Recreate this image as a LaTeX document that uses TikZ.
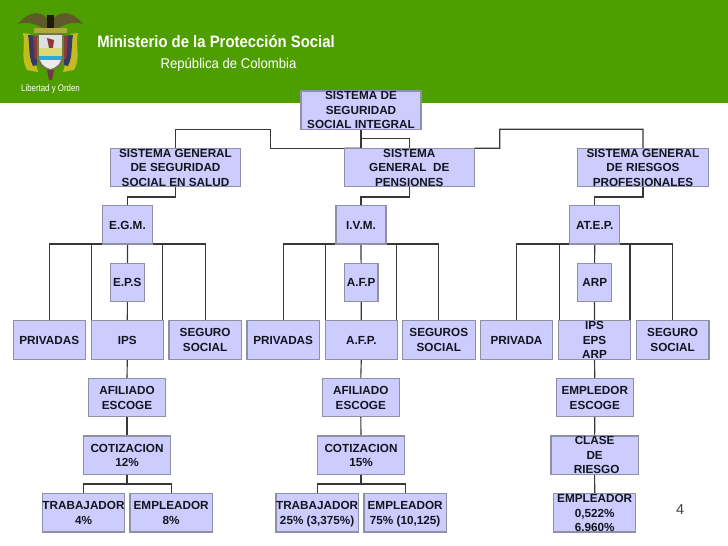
\documentclass[tikz,border=0pt]{standalone}
\usepackage{fontspec}
\setmainfont{Liberation Sans}
\pgfdeclarelayer{bg}
\pgfsetlayers{bg,main}
\definecolor{band}{HTML}{4F9E00}
\definecolor{boxfill}{HTML}{CCCCFF}
\definecolor{boxline}{HTML}{9090A4}
\definecolor{wire}{HTML}{383838}
\definecolor{txt}{HTML}{14141E}
\definecolor{wing}{HTML}{5E5A2A}
\definecolor{gold}{HTML}{C4BC1E}
\definecolor{navy}{HTML}{34386A}
\definecolor{crim}{HTML}{8A3A3A}
\definecolor{shld}{HTML}{6E7A3E}
\tikzset{
  bx/.style={draw=boxline,line width=1pt,fill=boxfill,inner sep=0pt,outer sep=0pt,text=txt},
  wirep/.style={draw=wire,line width=0.85pt,line join=miter},
  head/.style={inner sep=0pt,text=white}
}
% name, left, right, top, bottom, text
\newcommand{\bxn}[6]{%
  \pgfmathsetmacro{\cxx}{(#2+#3)/2}\pgfmathsetmacro{\cyy}{(#4+#5)/2}%
  \pgfmathsetmacro{\wdd}{(#3-#2)*0.75}\pgfmathsetmacro{\htt}{(#5-#4)*0.75}%
  \node[bx,minimum width=\wdd pt,minimum height=\htt pt] (#1) at (\cxx,\cyy)
  {\makebox[0pt][c]{\raisebox{-3.5pt}[0pt][0pt]{\parbox[c]{120pt}{\centering\fontsize{8.8}{10.9}\selectfont\bfseries\strut #6\strut}}}};}
\begin{document}
\begin{tikzpicture}[x=0.75pt,y=-0.75pt]
\useasboundingbox (0,0) rectangle (728,546);
\begin{pgfonlayer}{bg}
\fill[white] (0,0) rectangle (728,546);
\fill[band] (0,0) rectangle (728,103);
\end{pgfonlayer}
% emblem
\fill[gold] (23,33) .. controls (26,45) and (20,58) .. (27,70) -- (38,72) .. controls (33,55) and (34,45) .. (30,34) -- cycle;
\fill[gold] (78,33) .. controls (75,45) and (81,58) .. (74,70) -- (63,72) .. controls (68,55) and (67,45) .. (71,34) -- cycle;
\fill[navy] (28,35) .. controls (30,45) and (28,56) .. (33,66) -- (37,65) -- (37,36) -- cycle;
\fill[navy] (73,35) .. controls (71,45) and (73,56) .. (68,66) -- (64,65) -- (64,36) -- cycle;
\fill[crim] (33,36) -- (37,36) -- (37,60) -- (34.5,58) -- cycle;
\fill[crim] (68,36) -- (64,36) -- (64,60) -- (66.5,58) -- cycle;
\fill[wing] (50,21) .. controls (42,12) and (32,8) .. (18,24) .. controls (28,21) and (36,24) .. (44,29) -- (57,29) .. controls (65,24) and (73,21) .. (83,24) .. controls (69,8) and (59,12) .. (50,21) -- cycle;
\fill[black!70!wing] (46.5,15) rectangle (53.5,28);
\fill[gold!70!gray] (34,28) rectangle (67,33);
\fill[shld] (37,33) -- (64,33) -- (64,60) .. controls (62,68) and (55,70) .. (50.5,72) .. controls (46,70) and (39,68) .. (37,60) -- cycle;
\fill[gray!25] (39,35) rectangle (62,48);
\fill[crim] (47,38) -- (54,40) -- (53,48) -- (49,48) -- cycle;
\fill[gold!60!white] (39,48) rectangle (62,56);
\fill[blue!25!cyan!70!gray] (39,56) rectangle (62,60);
\fill[gray!15] (40,60) .. controls (42,66) and (47,68) .. (50.5,69) .. controls (54,68) and (59,66) .. (61,60) -- cycle;
\fill[crim!70!navy] (47,70) -- (54,70) -- (52,80) -- (49,80) -- cycle;
\node[head,font=\fontsize{7.2}{8}\selectfont] (lema) at (50.5,89.5) {\scalebox{0.82}[1]{Libertad y Orden}};
% header
\node[head,font=\fontsize{12.4}{14}\selectfont\bfseries] (ministerio) at (216,42) {\scalebox{0.9}[1]{Ministerio de la Protección Social}};
\node[head,font=\fontsize{10.6}{13}\selectfont] (republica) at (228.5,65) {\scalebox{0.93}[1]{República de Colombia}};
% boxes
\bxn{top}{301}{421}{91}{129.3}{SISTEMA DE\\SEGURIDAD\\SOCIAL INTEGRAL}
\bxn{salud}{110.3}{240.7}{148.3}{186.7}{SISTEMA GENERAL\\DE SEGURIDAD\\SOCIAL EN SALUD}
\bxn{pens}{344.3}{474.3}{148.3}{186.7}{SISTEMA\hspace*{4pt}\\GENERAL\ \ DE\\PENSIONES}
\bxn{ries}{577.7}{708.3}{148.3}{186.7}{SISTEMA GENERAL\\DE RIESGOS\\PROFESIONALES}
\bxn{egm}{102.3}{152.7}{205.7}{244}{E.G.M.}
\bxn{ivm}{336}{386}{205.7}{244}{I.V.M.}
\bxn{atep}{569.7}{619.7}{205.7}{244}{AT.E.P.}
\bxn{eps}{110.3}{144.3}{263.3}{301.7}{E.P.S}
\bxn{afpu}{344.3}{378}{263.3}{301.7}{A.F.P}
\bxn{arp}{577.7}{611.7}{263.3}{301.7}{ARP}
\bxn{pria}{13.3}{85.3}{320.7}{359.3}{PRIVADAS}
\bxn{ipsa}{91.3}{163.3}{320.7}{359.3}{IPS}
\bxn{sega}{169}{241.3}{320.7}{359.3}{SEGURO\\SOCIAL}
\bxn{prib}{247}{319.3}{320.7}{359.3}{PRIVADAS}
\bxn{afpb}{325.3}{397.3}{320.7}{359.3}{A.F.P.}
\bxn{segb}{402.3}{475.3}{320.7}{359.3}{SEGUROS\\SOCIAL}
\bxn{pric}{480.3}{552.7}{320.7}{359.3}{PRIVADA}
\bxn{ipsc}{558.3}{630.7}{320.7}{359.3}{IPS\\EPS\\ARP}
\bxn{segc}{636.3}{709}{320.7}{359.3}{SEGURO\\SOCIAL}
\bxn{afia}{88.3}{165.7}{378.7}{416.7}{AFILIADO\\ESCOGE}
\bxn{afib}{322.3}{399.3}{378.7}{416.7}{AFILIADO\\ESCOGE}
\bxn{empc}{556.3}{633.3}{378.7}{416.7}{EMPLEDOR\\ESCOGE}
\bxn{cota}{83.3}{170.7}{436}{474.3}{COTIZACION\\12\%}
\bxn{cotb}{317.3}{404.7}{436}{474.3}{COTIZACION\\15\%}
\bxn{clas}{551}{638.3}{436}{474.3}{CLASE\hspace*{3pt}\\DE\\\hspace*{3pt}RIESGO}
\bxn{traa}{42.3}{124.7}{493.7}{532}{TRABAJADOR\\4\%}
\bxn{emaa}{130}{212.3}{493.7}{532}{EMPLEADOR\\8\%}
\bxn{trab}{276}{358.3}{493.7}{532}{TRABAJADOR\\25\% (3,375\%)}
\bxn{emab}{364}{446.3}{493.7}{532}{EMPLEADOR\\75\% (10,125)}
\bxn{emac}{553.7}{635.7}{493.7}{532}{EMPLEADOR\\0,522\%\\6.960\%}
\node[inner sep=0pt,text=black!75,font=\fontsize{10.8}{12}\selectfont] (pagina) at (680,510) {4};
% connectors
\begin{pgfonlayer}{bg}
\draw[wirep] (top.south) |- (270.7,148.3) |- (175.5,129.3) -- (salud.north);
\draw[wirep] (top.south) |- (409.3,138.7) -- (pens.north);
\draw[wirep] (pens.east) ++(0,-19.2) -- (499.7,148.3) |- (643,129.3) -- (ries.north);
\draw[wirep] (top.south) -- (361,148.3) -- (pens.north west);
\draw[wirep] (salud.south) -- ++(0,10.3) -| (egm.north);
\draw[wirep] (pens.south) -- ++(0,10.3) -| (ivm.north);
\draw[wirep] (ries.south) -- ++(0,10.3) -| (atep.north);
% first family
\draw[wirep] (egm.south) -- (ipsa.north);
\draw[wirep] (pria.north) |- (egm.south) -| (sega.north);
\draw[wirep] (91.7,244.3) -- (91.7,320.7) -- (162.7,320.7) -- (162.7,244.3);
\draw[wirep] (ivm.south) -- (afpb.north);
\draw[wirep] (prib.north) |- (ivm.south) -| (segb.north);
\draw[wirep] (325.3,244.3) -- (325.3,320.7) -- (396.3,320.7) -- (396.3,244.3);
\draw[wirep] (atep.south) -- (ipsc.north);
\draw[wirep] (pric.north) |- (atep.south) -| (segc.north);
\draw[wirep] (559.3,244.3) -- (559.3,320.7) -- (630,320.7) -- (630,244.3);
% lower chains
\draw[wirep] (ipsa.south) -- (afia.north);
\draw[wirep] (afia.south) -- (cota.north);
\draw[wirep] (cota.south) -- ++(0,9.7) -| (traa.north);
\draw[wirep] (cota.south) -- ++(0,9.7) -| (emaa.north);
\draw[wirep] (afpb.south) -- (afib.north);
\draw[wirep] (afib.south) -- (cotb.north);
\draw[wirep] (cotb.south) -- ++(0,9.7) -| (trab.north);
\draw[wirep] (cotb.south) -- ++(0,9.7) -| (emab.north);
\draw[wirep] (ipsc.south) -- (empc.north);
\draw[wirep] (empc.south) -- (clas.north);
\draw[wirep] (clas.south) -- (emac.north);
\end{pgfonlayer}
\end{tikzpicture}
\end{document}
